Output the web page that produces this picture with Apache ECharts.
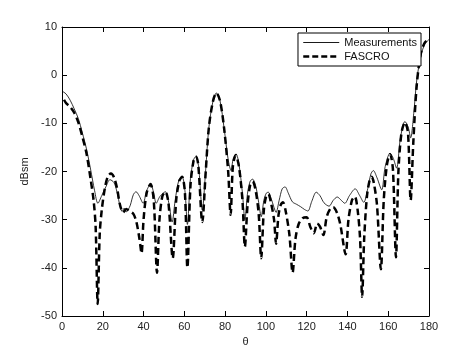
<!DOCTYPE html>
<html>
<head>
<meta charset="utf-8">
<script src="https://cdn.jsdelivr.net/npm/echarts@6/dist/echarts.min.js"></script>
<style>html,body{margin:0;padding:0;background:#fff;}#c{width:474px;height:355px;}</style>
</head>
<body>
<div id="c"></div>
<script>
// Measurements (solid thin line)
const measX = [0,2,4,6,8,10,12,14,16,17.6,19.5,21.5,23.5,25.5,27,28.5,29.5,30.5,31.5,32.5,33.5,35,36.3,37.8,39.8,41.5,43.5,45,46.2,48,50.7,52.5,54,55.5,57.3,58.9,60.3,61.5,63,64.5,65.6,67,68.8,70.5,72,74,75.7,77.5,79.5,81.5,82.9,84,85.4,86.8,88.5,89.7,91,92.3,93.5,95,96.5,97.7,99,100.2,101.2,102.5,104,105,106.5,108,109.4,111,113,115,117,119,120.6,122.5,124.7,126.5,128.5,131,133,135,137,138.7,141,143.8,146,148,150,151.5,152.7,154.5,156.8,158.5,160.9,162.5,164.1,166,168.2,169.8,171,172.5,174,176,178,180];
const measY = [-3.3,-3.9,-5.2,-7,-9,-12,-15.3,-19.5,-24,-26.6,-25,-23.2,-21.7,-22.3,-24.3,-27.3,-28.3,-27.6,-28.4,-27.9,-27,-24.8,-24.2,-25,-26.6,-24,-22.6,-24.5,-26.6,-25.2,-24.2,-26.8,-30.5,-26,-21.8,-21.1,-24,-31,-21.5,-17.6,-16.9,-19,-28,-19.5,-11,-5.5,-3.7,-5.3,-11,-17.5,-19.8,-17.3,-16.4,-18.5,-24.5,-30,-24.5,-22,-21.6,-23,-26.5,-29.4,-26,-24.5,-24.3,-25.5,-27.5,-28.5,-26,-23.6,-23.2,-24.5,-26.3,-26.8,-27.3,-27.9,-28.2,-26.2,-24.3,-25,-26.5,-27.2,-26,-25.3,-26,-26.6,-25,-23.6,-25,-26.4,-23.5,-20.5,-19.8,-21.3,-23.8,-19,-16.2,-17.3,-19.3,-13,-9.6,-10.8,-13,-8,-1,4,6.5,7.4];

// FASCRO (thick dashed line)
const fascroX = [1,2,4,6,8,10,12,14,15.5,16.5,17.5,18.5,19.5,21,22.5,24,25.5,27,28.5,30,31.5,33,35,36.5,38,39,40,41.5,43.4,45,46.6,47.8,49.2,50.7,52.2,54.3,56,57.5,58.9,60.3,61.5,63,64.5,65.6,66.8,68.8,70.5,72,74,75.7,77.5,79.5,81.5,82.7,83.8,85.2,86.8,88.5,89.7,91,92.3,93.5,95,96.5,97.7,99,100.2,101.2,102.5,104,105,106.2,107.4,108.4,109.6,111.5,113.1,114.5,116,118,120,121.8,123.5,125.2,126.6,128.2,129.8,131.5,133,134.8,136.5,139.1,140.5,142.2,143.6,145,146.2,147.2,148.2,149.6,151,151.9,153,154.5,156.4,157.8,159.4,160.9,162.3,163.8,165,166.5,168.2,169.7,171,172.3,174,176,178,180];
const fascroY = [-5.1,-5.8,-6.6,-7.8,-9.8,-12.8,-16.2,-21.5,-26,-31.5,-47.5,-33,-28,-23.5,-21,-20.4,-21.2,-23.5,-27,-28.5,-27.8,-28.2,-28.8,-30.5,-34,-37,-30,-24.5,-22.6,-26,-41,-30,-25.2,-24.2,-26.5,-38,-26,-22,-21.1,-24.5,-40,-23,-17.8,-16.9,-18.5,-30.5,-20,-11,-5.5,-3.7,-5.3,-11,-20,-29,-19,-16.6,-19,-26,-35.6,-27,-22.8,-22.1,-24,-29,-38,-28,-25,-24.7,-26.5,-30,-35,-29,-26.8,-26.4,-28,-33,-41,-34,-31,-29.7,-29.5,-31.5,-32.8,-30.8,-31.5,-33.2,-29.5,-27.8,-27.4,-28.5,-31,-37.2,-30,-26,-25.2,-28,-34,-46,-34,-25,-21.6,-21.1,-22.5,-27,-40.3,-26,-18.5,-16.4,-19.5,-37.8,-20,-12,-9.8,-12,-26,-14,-2,4.5,6.8,7.4];

const xTicks = [0,20,40,60,80,100,120,140,160,180];
const yTicks = [-50,-40,-30,-20,-10,0,10];

const pair = (xs, ys) => xs.map((x, i) => [x, ys[i]]);
const font = 'Liberation Sans, Arial, sans-serif';

const chart = echarts.init(document.getElementById('c'), null, {renderer: 'canvas'});
const axisCommon = {
  axisLine: {show: true, onZero: false, lineStyle: {color: '#000', width: 1}},
  axisTick: {show: true, inside: true, length: 5, lineStyle: {color: '#000'}},
  splitLine: {show: false}
};
chart.setOption({
  backgroundColor: '#fff',
  animation: false,
  grid: {left: 62, right: 45, top: 27, bottom: 39, containLabel: false},
  legend: {
    orient: 'vertical', right: 53, top: 33,
    itemWidth: 36, itemHeight: 12, itemGap: 3,
    padding: [4, 4, 4, 4],
    borderColor: '#000', borderWidth: 1, backgroundColor: '#fff',
    itemStyle: {opacity: 0},
    textStyle: {fontFamily: font, fontSize: 11, color: '#111'},
    data: [
      {name: 'Measurements', lineStyle: {width: 0.9, color: '#000', type: 'solid'}},
      {name: 'FASCRO', lineStyle: {width: 2.5, color: '#000', type: [6, 3]}}
    ]
  },
  xAxis: [
    Object.assign({type: 'value', min: xTicks[0], max: xTicks[xTicks.length-1], interval: 20,
      name: 'θ', nameLocation: 'middle', nameGap: 20,
      nameTextStyle: {fontFamily: font, fontSize: 11, color: '#222'},
      axisLabel: {fontFamily: font, fontSize: 11, color: '#222', margin: 5}}, axisCommon),
    Object.assign({type: 'value', position: 'top', min: 0, max: 180, interval: 20,
      axisLabel: {show: false}}, axisCommon)
  ],
  yAxis: [
    Object.assign({type: 'value', min: yTicks[0], max: yTicks[yTicks.length-1], interval: 10,
      name: 'dBsm', nameLocation: 'middle', nameGap: 26, nameRotate: 90,
      nameTextStyle: {fontFamily: font, fontSize: 11, color: '#222'},
      axisLabel: {fontFamily: font, fontSize: 11, color: '#222', margin: 5}}, axisCommon),
    Object.assign({type: 'value', position: 'right', min: -50, max: 10, interval: 10,
      axisLabel: {show: false}}, axisCommon)
  ],
  series: [
    {name: 'Measurements', type: 'line', data: pair(measX, measY), symbol: 'none', showSymbol: false,
      smooth: 0.3, lineStyle: {color: '#000', width: 0.8, type: 'solid'}, itemStyle: {color: '#000'}, z: 3},
    {name: 'FASCRO', type: 'line', data: pair(fascroX, fascroY), symbol: 'none', showSymbol: false,
      smooth: 0.3, lineStyle: {color: '#000', width: 2.5, type: [7, 4]}, itemStyle: {color: '#000'}, z: 2}
  ]
});
</script>
</body>
</html>
